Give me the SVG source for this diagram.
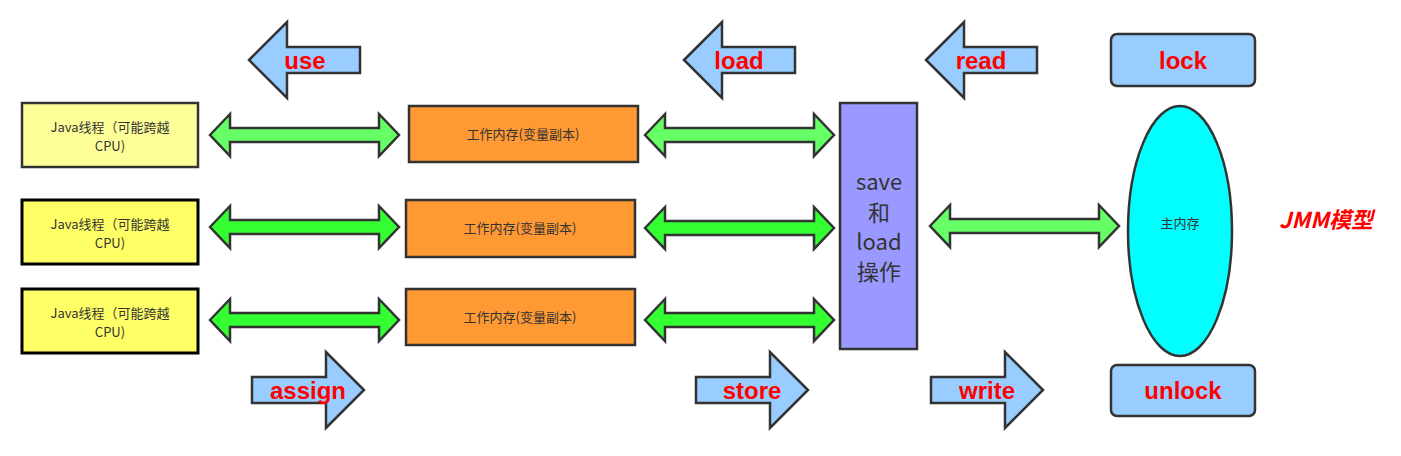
<svg xmlns="http://www.w3.org/2000/svg" width="1401" height="456" viewBox="0 0 1401 456">
<style>
.s{stroke:#333;stroke-width:2.5}
.blue{fill:#99CCFF}
.op{font-family:"Liberation Sans",Arial,sans-serif;font-weight:bold;font-size:24px;fill:#FF0000;text-anchor:middle}
.t{font-family:"Noto Sans CJK SC","Liberation Sans",sans-serif;font-size:13px;fill:#333;text-anchor:middle}
.g1{fill:#66FF66}.g2{fill:#33FF33}
.y1{fill:#FFFF99;stroke:#333;stroke-width:2.5}.y2{fill:#FFFF66;stroke:#000;stroke-width:3}
.or{fill:#FF9933}
</style>
<defs>
<path id="dbl" d="M0,0 L20,-21 L20,-7 L169,-7 L169,-21 L189,0 L169,21 L169,7 L20,7 L20,21 Z"/>
<path id="la" d="M0,0 L38,-38 L38,-13 L111,-13 L111,13 L38,13 L38,38 Z"/>
<path id="ra" d="M0,-13 L74,-13 L74,-38 L112,0 L74,38 L74,13 L0,13 Z"/>
</defs>
<g id="connectors">
<use href="#dbl" x="210" y="135" class="g1 s"/>
<use href="#dbl" x="210" y="227" class="g2 s"/>
<use href="#dbl" x="210" y="320" class="g2 s"/>
<use href="#dbl" x="645" y="135" class="g1 s"/>
<use href="#dbl" x="645" y="228" class="g2 s"/>
<use href="#dbl" x="645" y="320" class="g2 s"/>
<use href="#dbl" x="930" y="226" class="g1 s"/>
</g>
<g id="use"><use href="#la" x="249" y="60" class="blue s"/><text class="op" x="305" y="69">use</text></g>
<g id="load"><use href="#la" x="684" y="60" class="blue s"/><text class="op" x="739" y="69">load</text></g>
<g id="read"><use href="#la" x="926" y="60" class="blue s"/><text class="op" x="981" y="69">read</text></g>
<g id="assign"><use href="#ra" x="252" y="390" class="blue s"/><text class="op" x="308" y="399">assign</text></g>
<g id="store"><use href="#ra" x="696" y="390" class="blue s"/><text class="op" x="752" y="399">store</text></g>
<g id="write"><use href="#ra" x="931" y="390" class="blue s"/><text class="op" x="987" y="399">write</text></g>
<g id="lock"><rect x="1111" y="34" width="144" height="52" rx="6" class="blue s"/><text class="op" x="1183" y="69">lock</text></g>
<g id="unlock"><rect x="1111" y="365" width="144" height="51" rx="6" class="blue s"/><text class="op" x="1183" y="399">unlock</text></g>
<g id="thread1"><rect x="22" y="103" width="176" height="64" class="y1"/><text class="t" x="110" y="132">Java线程（可能跨越</text><text class="t" x="110" y="151">CPU)</text></g>
<g id="thread2"><rect x="22" y="200" width="176" height="64" class="y2"/><text class="t" x="110" y="229">Java线程（可能跨越</text><text class="t" x="110" y="248">CPU)</text></g>
<g id="thread3"><rect x="22" y="289" width="176" height="64" class="y2"/><text class="t" x="110" y="318">Java线程（可能跨越</text><text class="t" x="110" y="337">CPU)</text></g>
<g id="wm1"><rect x="409" y="106" width="229" height="56" class="or s"/><text class="t" x="523" y="139">工作内存(变量副本)</text></g>
<g id="wm2"><rect x="406" y="200" width="229" height="57" class="or s"/><text class="t" x="520" y="233">工作内存(变量副本)</text></g>
<g id="wm3"><rect x="406" y="289" width="229" height="56" class="or s"/><text class="t" x="520" y="322">工作内存(变量副本)</text></g>
<g id="saveload"><rect x="840" y="103" width="77" height="246" fill="#9999FF" class="s"/>
<g font-family="Noto Sans CJK SC,Liberation Sans,sans-serif" font-size="22" fill="#333" text-anchor="middle">
<text x="879" y="190">save</text><text x="879" y="221">和</text><text x="879" y="250">load</text><text x="879" y="280">操作</text></g></g>
<g id="main"><ellipse cx="1180" cy="231" rx="52" ry="125" fill="#00FFFF" class="s"/><text class="t" x="1180" y="228">主内存</text></g>
<text x="1326" y="228" font-family="Noto Sans CJK SC,Liberation Sans,sans-serif" font-size="22" font-weight="bold" font-style="italic" fill="#FF0000" text-anchor="middle">JMM模型</text>
</svg>
